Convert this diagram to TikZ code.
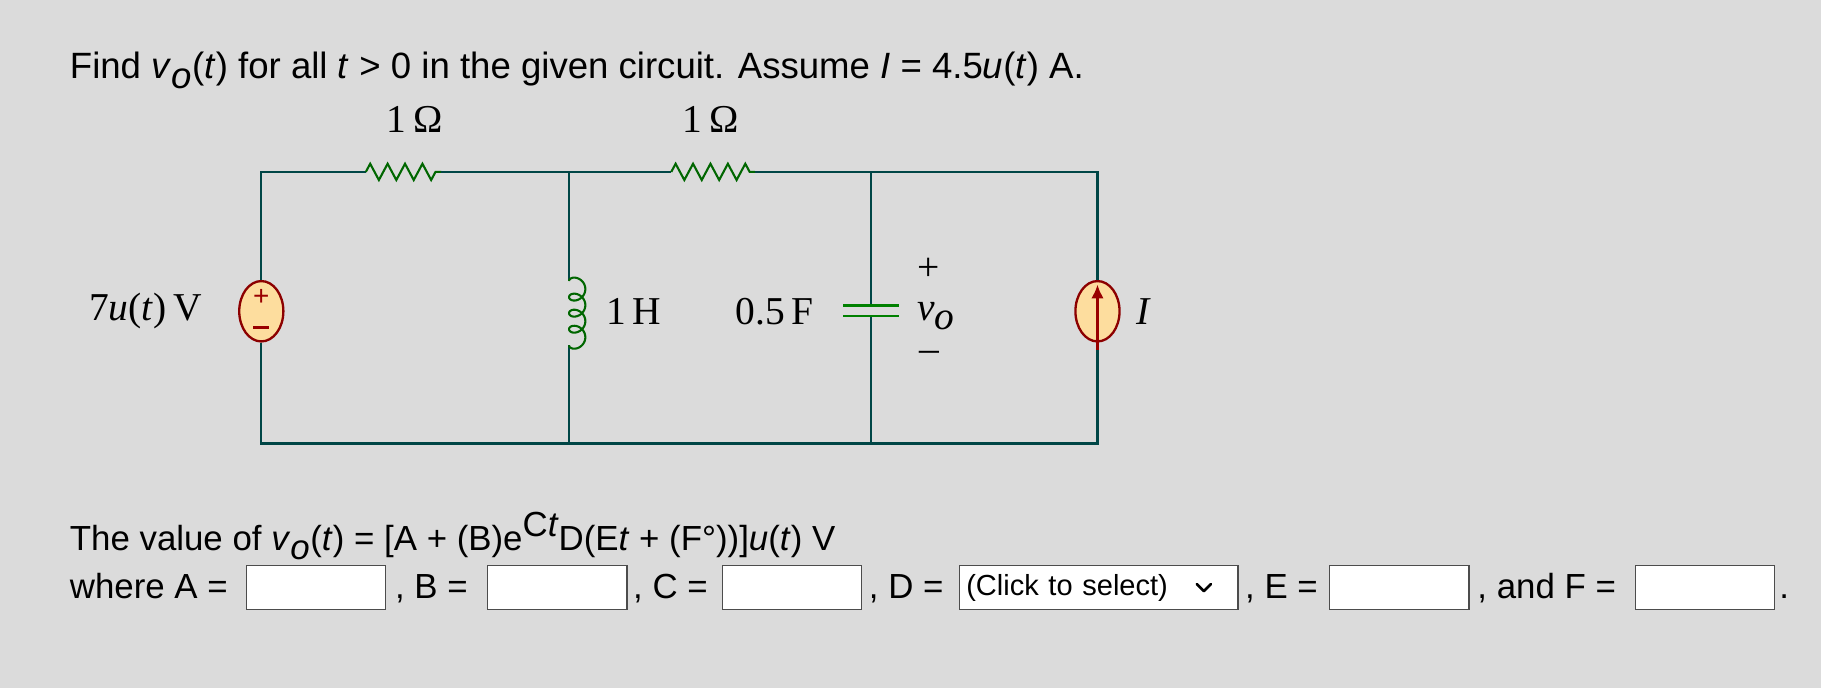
\documentclass[tikz,border=0pt]{standalone}
\usepackage{fontspec}
\setmainfont{Liberation Sans}
\newfontfamily\serifc{Liberation Serif}
\usetikzlibrary{decorations.pathmorphing,shapes.geometric,arrows.meta}
\begin{document}
\begin{tikzpicture}[x=1pt,y=-1pt,
  wire/.style={draw=black!45!teal,line width=2pt},
  res/.style={draw=green!40!black,line width=1.8pt,decorate,decoration={zigzag,segment length=15pt,amplitude=7pt}},
  src/.style={ellipse,draw=red!55!black,line width=2pt,fill=yellow!30!orange!35!white,minimum width=38pt,minimum height=52pt,inner sep=0},
  ctext/.style={font=\serifc\fontsize{34}{34}\selectfont,inner sep=0},
  qtext/.style={font=\fontsize{30}{30}\selectfont,inner sep=0,anchor=base west},
  ibox/.style={draw=black!70,fill=white,line width=1.2pt,minimum width=120pt,minimum height=38pt,inner sep=0}]
\fill[gray!28] (0,0) rectangle (1568,592);
\useasboundingbox (0,0) rectangle (1568,592);
% text
\node[qtext,font=\fontsize{31.5}{31.5}\selectfont] (q1) at (60,68) {Find \textit{v}$_{\textit{o}}$(\textit{t}) for all \textit{t} > 0 in the given circuit. Assume \textit{I} = 4.5\textit{u}(\textit{t}) A.};
% coordinates
\coordinate (tl) at (225,148); \coordinate (tr) at (945,148);
\coordinate (bl) at (225,382); \coordinate (br) at (945,382);
\coordinate (t1) at (490,148); \coordinate (b1) at (490,382);
\coordinate (t2) at (750,148); \coordinate (b2) at (750,382);
\coordinate (r1a) at (315,148); \coordinate (r1b) at (380,148);
\coordinate (r2a) at (578,148); \coordinate (r2b) at (650,148);
\node[src] (vs) at (225,268) {};
\node[src] (cs) at (945,268) {};
\draw[wire] (vs.north) -- (tl) -- (r1a);
\draw[res] (r1a) -- (r1b);
\draw[wire] (r1b) -- (t1) -- (r2a);
\draw[res] (r2a) -- (r2b);
\draw[wire] (r2b) -- (t2) -- (tr) -- (cs.north);
\draw[wire] (vs.south) -- (bl) -- (b1) -- (b2) -- (br) -- (cs.south);
% inductor
\coordinate (la) at (490,242); \coordinate (lb) at (490,297.3);
\draw[wire] (t1) -- (la);
\draw[wire] (lb) -- (b1);
\draw[draw=green!40!black,line width=1.8pt] plot[domain=0:1440,samples=240,smooth] ({490+7*(1-cos(\x))},{242+2.2*rad(\x)-6*sin(\x)});
% capacitor
\coordinate (ca) at (750,263); \coordinate (cb) at (750,272);
\draw[wire] (t2) -- (ca); \draw[wire] (cb) -- (b2);
\draw[draw=green!50!black,line width=2pt] (726,263) -- (774,263) (726,272) -- (774,272);
% source marks
\node[text=red!60!black,font=\fontsize{24}{24}\selectfont,inner sep=0] (vp) at (225,256) {+};
\draw[red!60!black,line width=2pt] (218,282) -- (232,282);
\draw[red!60!black,line width=2.6pt,-{Latex[length=12pt,width=11pt]}] ([yshift=-6pt]cs.south) -- ([yshift=-4pt]cs.north);
% labels
\node[ctext] (l1) at (357,103) {1\,Ω};
\node[ctext] (l2) at (612,103) {1\,Ω};
\node[ctext,anchor=east] (lv) at (174,268) {7\textit{u}(\textit{t})\,V};
\node[ctext] (lh) at (546,268) {1\,H};
\node[ctext] (lf) at (667,268) {0.5\,F};
\node[ctext] (lp) at (800,232) {+};
\node[ctext] (lo) at (806,272) {\textit{v}$_{\textit{o}}$};
\node[ctext] (lm) at (800,307) {–};
\node[ctext] (li) at (985,268) {\textit{I}};
% bottom
\node[qtext] (q2) at (60,474) {The value of \textit{v}$_{\textit{o}}$(\textit{t}) = [A + (B)e\raisebox{12pt}{C\textit{t}}D(E\textit{t} + (F°))]\textit{u}(\textit{t}) V};
\node[qtext] (w) at (60,515) {where A =};
\node[ibox] (ba) at (272,506) {};
\node[qtext] (wb) at (340,515) {, B =};
\node[ibox] (bb) at (480,506) {};
\node[qtext] (wc) at (545,515) {, C =};
\node[ibox] (bc) at (682,506) {};
\node[qtext] (wd) at (748,515) {, D =};
\node[ibox,minimum width=240pt,font=\fontsize{25}{25}\selectfont,text width=228pt,align=left] (bd) at (946,506) {(Click to select)};
\draw[line width=2.4pt,line cap=round,line join=round] ([xshift=-36pt,yshift=3pt]bd.east) -- ([xshift=-30pt,yshift=-3pt]bd.east) -- ([xshift=-24pt,yshift=3pt]bd.east);
\node[qtext] (we) at (1072,515) {, E =};
\node[ibox] (be) at (1205,506) {};
\node[qtext] (wf) at (1272,515) {, and F =};
\node[ibox] (bf) at (1468,506) {};
\node[qtext] (dot) at (1532,515) {.};
\end{tikzpicture}
\end{document}
